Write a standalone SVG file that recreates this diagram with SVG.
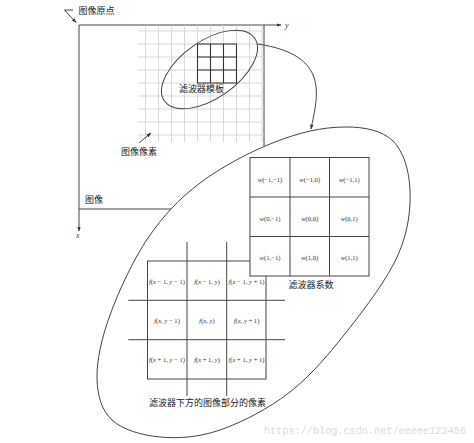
<svg xmlns="http://www.w3.org/2000/svg" width="474" height="443" viewBox="0 0 474 443">
<defs>
<style>
.ln{stroke:#444;stroke-width:1;fill:none}
.grid{stroke:#cfcfcf;stroke-width:0.8}
.dk{stroke:#333;stroke-width:1.1;fill:none}
.cn{font-family:"Noto Sans CJK SC","Noto Sans",sans-serif;font-size:9px;fill:#222;text-anchor:middle}
.m{font-family:"Liberation Serif","DejaVu Serif",serif;font-size:6.6px;fill:#333;text-anchor:middle}
.ax{font-family:"Liberation Serif",serif;font-style:italic;font-size:8px;fill:#333}
.wm{font-family:"Liberation Mono",monospace;font-size:10.2px;fill:#dadada}
</style>
<marker id="ah" viewBox="0 0 10 10" refX="9" refY="5" markerWidth="5" markerHeight="5" orient="auto">
<path d="M0,1.5 L10,5 L0,8.5 Z" fill="#333"/>
</marker>
</defs>
<rect width="474" height="443" fill="#fff"/>

<g id="image">
<line class="ln" x1="264" y1="25" x2="264" y2="209"/>
<line class="ln" x1="79" y1="209" x2="264" y2="209"/>
<line class="ln" x1="79" y1="25" x2="281" y2="25" marker-end="url(#ah)"/>
<line class="ln" x1="79" y1="25" x2="79" y2="231" marker-end="url(#ah)"/>
<text class="ax" x="285" y="28">y</text>
<text class="ax" x="76" y="238">x</text>
</g>

<g id="pixel-grid" class="grid">
<line x1="145.5" y1="25" x2="145.5" y2="142"/>
<line x1="158.5" y1="25" x2="158.5" y2="142"/>
<line x1="171.5" y1="25" x2="171.5" y2="142"/>
<line x1="184.5" y1="25" x2="184.5" y2="142"/>
<line x1="197.5" y1="25" x2="197.5" y2="142"/>
<line x1="210.5" y1="25" x2="210.5" y2="142"/>
<line x1="223.5" y1="25" x2="223.5" y2="142"/>
<line x1="236.5" y1="25" x2="236.5" y2="142"/>
<line x1="249.5" y1="25" x2="249.5" y2="142"/>
<line x1="262" y1="25" x2="262" y2="142"/>
<line x1="138" y1="31" x2="264" y2="31"/>
<line x1="138" y1="44" x2="264" y2="44"/>
<line x1="138" y1="57" x2="264" y2="57"/>
<line x1="138" y1="70" x2="264" y2="70"/>
<line x1="138" y1="83" x2="264" y2="83"/>
<line x1="138" y1="96" x2="264" y2="96"/>
<line x1="138" y1="109" x2="264" y2="109"/>
<line x1="138" y1="122" x2="264" y2="122"/>
<line x1="138" y1="135" x2="264" y2="135"/>
</g>

<g id="filter-mask">
<path class="dk" d="M197.5,44 H236.5 V83 H197.5 Z M210.5,44 V83 M223.5,44 V83 M197.5,57 H236.5 M197.5,70 H236.5"/>
<ellipse class="ln" cx="209.5" cy="69.5" rx="55" ry="28.6" transform="rotate(-35 209.5 69.5)"/>
<text class="cn" x="201.5" y="92">滤波器模板</text>
</g>

<g id="labels">
<text class="cn" x="96.5" y="13.5">图像原点</text>
<text class="cn" x="139" y="154.5">图像像素</text>
<text class="cn" x="94" y="202.5">图像</text>
</g>

<g id="big-region">
<path class="ln" fill="#fff" style="fill:#fff" d="M345,127 C364.67,126.83 382.17,130.5 393,141 C403.83,151.5 409.17,171 410,190 C410.83,209 408.33,231.67 398,255 C387.67,278.33 366,307.17 348,330 C330,352.83 311.33,375.33 290,392 C268.67,408.67 241.67,422.5 220,430 C198.33,437.5 178,438.67 160,437 C142,435.33 122.5,429.83 112,420 C101.5,410.17 97.33,395.5 97,378 C96.67,360.5 101.5,338.33 110,315 C118.5,291.67 133,260 148,238 C163,216 178.83,199 200,183 C221.17,167 250.83,151.33 275,142 C299.17,132.67 320.83,127.17 345,127 Z"/>
</g>

<g id="connectors">
<polyline class="ln" points="73,10 64.5,10 76,22.5" marker-end="url(#ah)"/>
<line class="ln" x1="139" y1="143" x2="151" y2="133" marker-end="url(#ah)"/>
<path class="ln" d="M258,44 C330,55 318,95 311,129" marker-end="url(#ah)"/>
</g>

<g id="pixels-under-mask">
<rect class="ln" x="147.5" y="261" width="118.5" height="118"/>
<line class="ln" x1="187" y1="242" x2="187" y2="396"/>
<line class="ln" x1="226.7" y1="242" x2="226.7" y2="396"/>
<line class="ln" x1="128.3" y1="300.3" x2="285" y2="300.3"/>
<line class="ln" x1="128.3" y1="339.7" x2="285" y2="339.7"/>
<text class="m" x="167" y="284"><tspan font-style="italic">f</tspan>(<tspan font-style="italic">x</tspan> − 1, <tspan font-style="italic">y</tspan> − 1)</text>
<text class="m" x="207" y="284"><tspan font-style="italic">f</tspan>(<tspan font-style="italic">x</tspan> − 1, <tspan font-style="italic">y</tspan>)</text>
<text class="m" x="246.5" y="284"><tspan font-style="italic">f</tspan>(<tspan font-style="italic">x</tspan> − 1, <tspan font-style="italic">y</tspan> + 1)</text>
<text class="m" x="167" y="323"><tspan font-style="italic">f</tspan>(<tspan font-style="italic">x</tspan>, <tspan font-style="italic">y</tspan> − 1)</text>
<text class="m" x="207" y="323"><tspan font-style="italic">f</tspan>(<tspan font-style="italic">x</tspan>, <tspan font-style="italic">y</tspan>)</text>
<text class="m" x="246.5" y="323"><tspan font-style="italic">f</tspan>(<tspan font-style="italic">x</tspan>, <tspan font-style="italic">y</tspan> + 1)</text>
<text class="m" x="167" y="362.3"><tspan font-style="italic">f</tspan>(<tspan font-style="italic">x</tspan> + 1, <tspan font-style="italic">y</tspan> − 1)</text>
<text class="m" x="207" y="362.3"><tspan font-style="italic">f</tspan>(<tspan font-style="italic">x</tspan> + 1, <tspan font-style="italic">y</tspan>)</text>
<text class="m" x="246.5" y="362.3"><tspan font-style="italic">f</tspan>(<tspan font-style="italic">x</tspan> + 1, <tspan font-style="italic">y</tspan> + 1)</text>
<text class="cn" x="207.5" y="406">滤波器下方的图像部分的像素</text>
</g>

<g id="filter-coefficients">
<rect class="ln" style="fill:#fff" x="250" y="157.5" width="119" height="118.5"/>
<line class="ln" x1="290" y1="157.5" x2="290" y2="276"/>
<line class="ln" x1="329.5" y1="157.5" x2="329.5" y2="276"/>
<line class="ln" x1="250" y1="197" x2="369" y2="197"/>
<line class="ln" x1="250" y1="236.5" x2="369" y2="236.5"/>
<text class="m" x="270" y="181.5"><tspan font-style="italic">w</tspan>(−1,−1)</text>
<text class="m" x="309.7" y="181.5"><tspan font-style="italic">w</tspan>(−1,0)</text>
<text class="m" x="349.3" y="181.5"><tspan font-style="italic">w</tspan>(−1,1)</text>
<text class="m" x="270" y="220.8"><tspan font-style="italic">w</tspan>(0,−1)</text>
<text class="m" x="309.7" y="220.8"><tspan font-style="italic">w</tspan>(0,0)</text>
<text class="m" x="349.3" y="220.8"><tspan font-style="italic">w</tspan>(0,1)</text>
<text class="m" x="270" y="260.2"><tspan font-style="italic">w</tspan>(1,−1)</text>
<text class="m" x="309.7" y="260.2"><tspan font-style="italic">w</tspan>(1,0)</text>
<text class="m" x="349.3" y="260.2"><tspan font-style="italic">w</tspan>(1,1)</text>
<text class="cn" x="311" y="287.5">滤波器系数</text>
</g>

<text class="wm" x="264" y="433.5">https://blog.csdn.net/eeeee123456</text>
</svg>
